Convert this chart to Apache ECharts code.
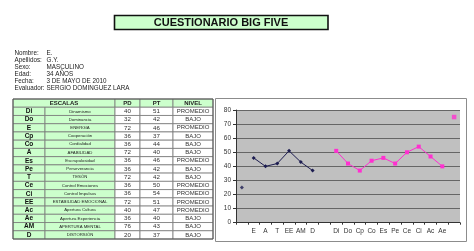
<!DOCTYPE html>
<html>
<head>
<meta charset="utf-8">
<script src="https://cdn.jsdelivr.net/npm/echarts@6/dist/echarts.min.js"></script>
<style>
  html, body { margin: 0; padding: 0; background: #fff; }
  #main { width: 474px; height: 251px; }
</style>
</head>
<body>
<div id="main"></div>
<script>
// cabecera
const titleText = 'CUESTIONARIO BIG FIVE';
const infoLabels = ['Nombre:', 'Apellidos:', 'Sexo:', 'Edad:', 'Fecha:', 'Evaluador:'];
const infoValues = ['E.', 'G.Y.', 'MASCULINO', '34 AÑOS', '3 DE MAYO DE 2010', 'SERGIO DOMINGUEZ LARA'];

// tabla
const tableHeaders = ['ESCALAS', 'PD', 'PT', 'NIVEL'];
const scaleCodes = ['Di', 'Do', 'E', 'Cp', 'Co', 'A', 'Es', 'Pe', 'T', 'Ce', 'Ci', 'EE', 'Ac', 'Ae', 'AM', 'D'];
const scaleNames = ['Dinamismo', 'Dominancia', 'ENERGÍA', 'Cooperación', 'Cordialidad', 'AFABILIDAD',
  'Escrupulosidad', 'Perseverancia', 'TESÓN', 'Control Emociones', 'Control Impulsos',
  'ESTABILIDAD EMOCIONAL', 'Apertura Cultura', 'Apertura Experiencia', 'APERTURA MENTAL', 'DISTORSIÓN'];
const pdValues = [40, 32, 72, 36, 36, 72, 36, 36, 72, 36, 36, 72, 40, 36, 76, 20];
const ptValues = [51, 42, 46, 37, 44, 40, 46, 42, 42, 50, 54, 51, 47, 40, 43, 37];
const levels = ['PROMEDIO', 'BAJO', 'PROMEDIO', 'BAJO', 'BAJO', 'BAJO', 'PROMEDIO', 'BAJO', 'BAJO',
  'PROMEDIO', 'PROMEDIO', 'PROMEDIO', 'PROMEDIO', 'BAJO', 'BAJO', 'BAJO'];

// grafico
const chartCategories = ['', 'E', 'A', 'T', 'EE', 'AM', 'D', '', 'Di', 'Do', 'Cp', 'Co', 'Es', 'Pe', 'Ce', 'Ci', 'Ac', 'Ae', ''];
const factorValues = [null, 46, 40, 42, 51, 43, 37, null, null, null, null, null, null, null, null, null, null, null, null];
const facetValues = [null, null, null, null, null, null, null, null, 51, 42, 37, 44, 46, 42, 50, 54, 47, 40, null];
const anchorLow = [25, null, null, null, null, null, null, null, null, null, null, null, null, null, null, null, null, null, null];
const anchorHigh = [null, null, null, null, null, null, null, null, null, null, null, null, null, null, null, null, null, null, 75];
const yTicks = { min: 0, max: 80, interval: 10 };

const FONT = 'Liberation Sans, Arial, sans-serif';
const GREEN = '#ccffcc';
const DARK = '#1c1c50';
const PINK = '#ff2fd0';

function txt(text, x, y, size, opts = {}) {
  return {
    type: 'text',
    z: 10,
    style: {
      text: text,
      x: x,
      y: y,
      fill: opts.fill || '#222',
      font: (opts.bold ? 'bold ' : '') + size + 'px ' + FONT,
      align: opts.align || 'left',
      verticalAlign: 'middle'
    }
  };
}

function cell(x, y, w, h, fill) {
  return {
    type: 'rect',
    z: 5,
    shape: { x: x, y: y, width: w, height: h },
    style: { fill: fill, stroke: '#7a7a7a', lineWidth: 0.8 }
  };
}

const elements = [];

// titulo
elements.push({
  type: 'rect', z: 5,
  shape: { x: 114.5, y: 15.5, width: 213.5, height: 14 },
  style: { fill: GREEN, stroke: '#111', lineWidth: 1.6 }
});
elements.push(txt(titleText, 221, 22.8, 11, { bold: true, align: 'center', fill: '#111' }));

// datos personales
infoLabels.forEach((l, i) => {
  const y = 53.5 + i * 7.05;
  elements.push(txt(l, 14.5, y, 6.3));
  elements.push(txt(infoValues[i], 46.5, y, 6.3));
});

// tabla
const colX = [13, 45, 115, 140, 173, 213];
const tableTop = 99;
const rowH = 140 / 17;
elements.push(cell(colX[0], tableTop, colX[2] - colX[0], rowH, GREEN));
elements.push(txt(tableHeaders[0], (colX[0] + colX[2]) / 2, tableTop + rowH / 2, 6, { bold: true, align: 'center' }));
for (let c = 1; c < 4; c++) {
  elements.push(cell(colX[c + 1], tableTop, colX[c + 2] - colX[c + 1], rowH, GREEN));
  elements.push(txt(tableHeaders[c], (colX[c + 1] + colX[c + 2]) / 2, tableTop + rowH / 2, 6, { bold: true, align: 'center' }));
}
scaleCodes.forEach((code, i) => {
  const y = tableTop + (i + 1) * rowH;
  const cy = y + rowH / 2;
  elements.push(cell(colX[0], y, colX[1] - colX[0], rowH, GREEN));
  elements.push(cell(colX[1], y, colX[2] - colX[1], rowH, GREEN));
  elements.push(cell(colX[2], y, colX[3] - colX[2], rowH, '#fff'));
  elements.push(cell(colX[3], y, colX[4] - colX[3], rowH, '#fff'));
  elements.push(cell(colX[4], y, colX[5] - colX[4], rowH, '#fff'));
  elements.push(txt(code, (colX[0] + colX[1]) / 2, cy, 6.5, { bold: true, align: 'center', fill: '#111' }));
  elements.push(txt(scaleNames[i], (colX[1] + colX[2]) / 2, cy, 4.3, { align: 'center', fill: '#222' }));
  elements.push(txt(String(pdValues[i]), (colX[2] + colX[3]) / 2, cy, 6.2, { align: 'center', fill: '#333' }));
  elements.push(txt(String(ptValues[i]), (colX[3] + colX[4]) / 2, cy, 6.2, { align: 'center', fill: '#333' }));
  elements.push(txt(levels[i], (colX[4] + colX[5]) / 2, cy, 6, { align: 'center', fill: '#333' }));
});
elements.push({
  type: 'rect', z: 6,
  shape: { x: colX[0], y: tableTop, width: colX[5] - colX[0], height: rowH * 17 },
  style: { fill: null, stroke: '#555', lineWidth: 1 }
});

// marco del grafico
elements.push({
  type: 'rect', z: -1,
  shape: { x: 215.5, y: 98.5, width: 251, height: 143 },
  style: { fill: '#fff', stroke: '#8c8c8c', lineWidth: 1 }
});

const option = {
  animation: false,
  backgroundColor: '#fff',
  textStyle: { fontFamily: FONT },
  graphic: { elements: elements },
  grid: {
    left: 236,
    top: 110,
    width: 224,
    height: 112.7,
    show: true,
    backgroundColor: '#c0c0c0',
    borderWidth: 0
  },
  xAxis: {
    type: 'category',
    data: chartCategories,
    axisLine: { lineStyle: { color: '#333', width: 1 } },
    axisTick: { show: true, length: 2, lineStyle: { color: '#333' } },
    axisLabel: { interval: 0, fontSize: 6.5, color: '#333', margin: 5 }
  },
  yAxis: {
    type: 'value',
    min: yTicks.min,
    max: yTicks.max,
    interval: yTicks.interval,
    axisLine: { show: true, lineStyle: { color: '#333', width: 1 } },
    axisTick: { show: true, length: 3, lineStyle: { color: '#333' } },
    axisLabel: { fontSize: 6.5, color: '#333', margin: 5 },
    splitLine: { show: true, lineStyle: { color: '#666', width: 1 } }
  },
  series: [
    {
      type: 'line',
      data: factorValues,
      symbol: 'diamond',
      symbolSize: 4,
      color: DARK,
      lineStyle: { color: DARK, width: 1 },
      itemStyle: { color: DARK }
    },
    {
      type: 'scatter',
      data: anchorLow,
      symbol: 'diamond',
      symbolSize: 4,
      itemStyle: { color: DARK }
    },
    {
      type: 'line',
      data: facetValues,
      symbol: 'rect',
      symbolSize: 4,
      color: PINK,
      lineStyle: { color: PINK, width: 1 },
      itemStyle: { color: PINK }
    },
    {
      type: 'scatter',
      data: anchorHigh,
      symbol: 'rect',
      symbolSize: 4.5,
      itemStyle: { color: PINK }
    }
  ]
};

const myChart = echarts.init(document.getElementById('main'));
myChart.setOption(option);
</script>
</body>
</html>
